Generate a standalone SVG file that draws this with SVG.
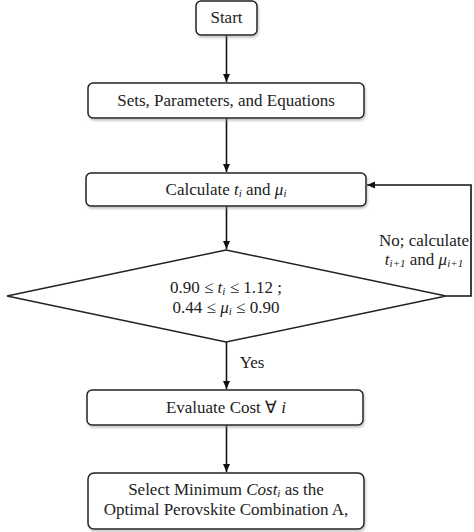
<svg xmlns="http://www.w3.org/2000/svg" width="474" height="532" viewBox="0 0 474 532">
<defs>
<marker id="ah" markerWidth="10" markerHeight="10" refX="9" refY="5" orient="auto" markerUnits="userSpaceOnUse">
<path d="M1,1.5 L9,5 L1,8.5 Z" fill="#111"/>
</marker>
<filter id="sh" x="-5%" y="-10%" width="110%" height="130%">
<feDropShadow dx="1" dy="2" stdDeviation="1" flood-color="#888" flood-opacity="0.5"/>
</filter>
</defs>
<style>
.box{fill:#fff;stroke:#222;stroke-width:1.5}
.t{font-family:"Liberation Serif","Times New Roman",serif;font-size:17px;fill:#222;text-anchor:middle}
.it{font-style:italic}
.sub{font-size:11px;font-style:italic}
.c{fill:none;stroke:#111;stroke-width:1.6}
</style>
<rect width="474" height="532" fill="#fff"/>
<g id="connectors">
<line class="c" x1="226.5" y1="35" x2="226.5" y2="82" marker-end="url(#ah)"/>
<line class="c" x1="226.5" y1="118" x2="226.5" y2="172" marker-end="url(#ah)"/>
<line class="c" x1="226.5" y1="206" x2="226.5" y2="249" marker-end="url(#ah)"/>
<line class="c" x1="226.5" y1="342" x2="226.5" y2="389" marker-end="url(#ah)"/>
<line class="c" x1="226.5" y1="425" x2="226.5" y2="472" marker-end="url(#ah)"/>
<polyline class="c" points="446,296 471,296 471,185 367,185" marker-end="url(#ah)"/>
<text class="t" x="252" y="368">Yes</text>
<text class="t" x="424" y="246">No; calculate</text>
<text class="t" x="424" y="265"><tspan class="it">t</tspan><tspan class="sub" dy="1.5">i+1</tspan><tspan dy="-1.5"> and </tspan><tspan class="it">μ</tspan><tspan class="sub" dy="1.5">i+1</tspan></text>
</g>
<g id="start">
<rect class="box" x="196" y="1" width="61" height="34" rx="5" filter="url(#sh)"/>
<text class="t" x="226.5" y="23">Start</text>
</g>
<g id="sets">
<rect class="box" x="88" y="83" width="276" height="35" rx="5" filter="url(#sh)"/>
<text class="t" x="226" y="106">Sets, Parameters, and Equations</text>
</g>
<g id="calculate">
<rect class="box" x="86" y="173" width="280" height="33" rx="5" filter="url(#sh)"/>
<text class="t" x="226" y="195">Calculate <tspan class="it">t</tspan><tspan class="sub" dy="1.5">i</tspan><tspan dy="-1.5"> and </tspan><tspan class="it">μ</tspan><tspan class="sub" dy="1.5">i</tspan></text>
</g>
<g id="check">
<polygon class="box" points="226,250 446,296 226,342 7,296"/>
<text class="t" x="226" y="293">0.90 ≤ <tspan class="it">t</tspan><tspan class="sub" dy="1.5">i</tspan><tspan dy="-1.5"> ≤ 1.12 ;</tspan></text>
<text class="t" x="226" y="313">0.44 ≤ <tspan class="it">μ</tspan><tspan class="sub" dy="1.5">i</tspan><tspan dy="-1.5"> ≤ 0.90</tspan></text>
</g>
<g id="evaluate">
<rect class="box" x="87" y="390" width="276" height="35" rx="5" filter="url(#sh)"/>
<text class="t" x="226" y="413">Evaluate Cost ∀ <tspan class="it">i</tspan></text>
</g>
<g id="select">
<rect class="box" x="88" y="473" width="276" height="56" rx="6" filter="url(#sh)"/>
<text class="t" x="226" y="495">Select Minimum <tspan class="it">Cost</tspan><tspan class="sub" dy="1.5">i</tspan><tspan dy="-1.5"> as the</tspan></text>
<text class="t" x="226" y="515">Optimal Perovskite Combination A,</text>
</g>
</svg>
